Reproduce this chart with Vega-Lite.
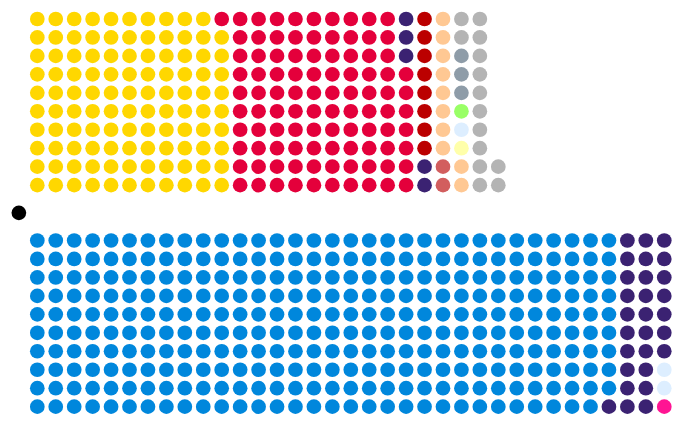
{
"$schema":"https://vega.github.io/schema/vega-lite/v6.json",
"width":683,"height":425,"padding":0,"autosize":"none",
"config":{"view":{"stroke":null}},
"data":{"values":[
{"x":-1,"y":10.5,"p":"K"},
{"x":0,"y":0,"p":"Y"},{"x":0,"y":1,"p":"Y"},{"x":0,"y":2,"p":"Y"},{"x":0,"y":3,"p":"Y"},{"x":0,"y":4,"p":"Y"},{"x":0,"y":5,"p":"Y"},{"x":0,"y":6,"p":"Y"},{"x":0,"y":7,"p":"Y"},{"x":0,"y":8,"p":"Y"},{"x":0,"y":9,"p":"Y"},
{"x":1,"y":0,"p":"Y"},{"x":1,"y":1,"p":"Y"},{"x":1,"y":2,"p":"Y"},{"x":1,"y":3,"p":"Y"},{"x":1,"y":4,"p":"Y"},{"x":1,"y":5,"p":"Y"},{"x":1,"y":6,"p":"Y"},{"x":1,"y":7,"p":"Y"},{"x":1,"y":8,"p":"Y"},{"x":1,"y":9,"p":"Y"},
{"x":2,"y":0,"p":"Y"},{"x":2,"y":1,"p":"Y"},{"x":2,"y":2,"p":"Y"},{"x":2,"y":3,"p":"Y"},{"x":2,"y":4,"p":"Y"},{"x":2,"y":5,"p":"Y"},{"x":2,"y":6,"p":"Y"},{"x":2,"y":7,"p":"Y"},{"x":2,"y":8,"p":"Y"},{"x":2,"y":9,"p":"Y"},
{"x":3,"y":0,"p":"Y"},{"x":3,"y":1,"p":"Y"},{"x":3,"y":2,"p":"Y"},{"x":3,"y":3,"p":"Y"},{"x":3,"y":4,"p":"Y"},{"x":3,"y":5,"p":"Y"},{"x":3,"y":6,"p":"Y"},{"x":3,"y":7,"p":"Y"},{"x":3,"y":8,"p":"Y"},{"x":3,"y":9,"p":"Y"},
{"x":4,"y":0,"p":"Y"},{"x":4,"y":1,"p":"Y"},{"x":4,"y":2,"p":"Y"},{"x":4,"y":3,"p":"Y"},{"x":4,"y":4,"p":"Y"},{"x":4,"y":5,"p":"Y"},{"x":4,"y":6,"p":"Y"},{"x":4,"y":7,"p":"Y"},{"x":4,"y":8,"p":"Y"},{"x":4,"y":9,"p":"Y"},
{"x":5,"y":0,"p":"Y"},{"x":5,"y":1,"p":"Y"},{"x":5,"y":2,"p":"Y"},{"x":5,"y":3,"p":"Y"},{"x":5,"y":4,"p":"Y"},{"x":5,"y":5,"p":"Y"},{"x":5,"y":6,"p":"Y"},{"x":5,"y":7,"p":"Y"},{"x":5,"y":8,"p":"Y"},{"x":5,"y":9,"p":"Y"},
{"x":6,"y":0,"p":"Y"},{"x":6,"y":1,"p":"Y"},{"x":6,"y":2,"p":"Y"},{"x":6,"y":3,"p":"Y"},{"x":6,"y":4,"p":"Y"},{"x":6,"y":5,"p":"Y"},{"x":6,"y":6,"p":"Y"},{"x":6,"y":7,"p":"Y"},{"x":6,"y":8,"p":"Y"},{"x":6,"y":9,"p":"Y"},
{"x":7,"y":0,"p":"Y"},{"x":7,"y":1,"p":"Y"},{"x":7,"y":2,"p":"Y"},{"x":7,"y":3,"p":"Y"},{"x":7,"y":4,"p":"Y"},{"x":7,"y":5,"p":"Y"},{"x":7,"y":6,"p":"Y"},{"x":7,"y":7,"p":"Y"},{"x":7,"y":8,"p":"Y"},{"x":7,"y":9,"p":"Y"},
{"x":8,"y":0,"p":"Y"},{"x":8,"y":1,"p":"Y"},{"x":8,"y":2,"p":"Y"},{"x":8,"y":3,"p":"Y"},{"x":8,"y":4,"p":"Y"},{"x":8,"y":5,"p":"Y"},{"x":8,"y":6,"p":"Y"},{"x":8,"y":7,"p":"Y"},{"x":8,"y":8,"p":"Y"},{"x":8,"y":9,"p":"Y"},
{"x":9,"y":0,"p":"Y"},{"x":9,"y":1,"p":"Y"},{"x":9,"y":2,"p":"Y"},{"x":9,"y":3,"p":"Y"},{"x":9,"y":4,"p":"Y"},{"x":9,"y":5,"p":"Y"},{"x":9,"y":6,"p":"Y"},{"x":9,"y":7,"p":"Y"},{"x":9,"y":8,"p":"Y"},{"x":9,"y":9,"p":"Y"},
{"x":10,"y":0,"p":"R"},{"x":10,"y":1,"p":"Y"},{"x":10,"y":2,"p":"Y"},{"x":10,"y":3,"p":"Y"},{"x":10,"y":4,"p":"Y"},{"x":10,"y":5,"p":"Y"},{"x":10,"y":6,"p":"Y"},{"x":10,"y":7,"p":"Y"},{"x":10,"y":8,"p":"Y"},{"x":10,"y":9,"p":"Y"},
{"x":11,"y":0,"p":"R"},{"x":11,"y":1,"p":"R"},{"x":11,"y":2,"p":"R"},{"x":11,"y":3,"p":"R"},{"x":11,"y":4,"p":"R"},{"x":11,"y":5,"p":"R"},{"x":11,"y":6,"p":"R"},{"x":11,"y":7,"p":"R"},{"x":11,"y":8,"p":"R"},{"x":11,"y":9,"p":"R"},
{"x":12,"y":0,"p":"R"},{"x":12,"y":1,"p":"R"},{"x":12,"y":2,"p":"R"},{"x":12,"y":3,"p":"R"},{"x":12,"y":4,"p":"R"},{"x":12,"y":5,"p":"R"},{"x":12,"y":6,"p":"R"},{"x":12,"y":7,"p":"R"},{"x":12,"y":8,"p":"R"},{"x":12,"y":9,"p":"R"},
{"x":13,"y":0,"p":"R"},{"x":13,"y":1,"p":"R"},{"x":13,"y":2,"p":"R"},{"x":13,"y":3,"p":"R"},{"x":13,"y":4,"p":"R"},{"x":13,"y":5,"p":"R"},{"x":13,"y":6,"p":"R"},{"x":13,"y":7,"p":"R"},{"x":13,"y":8,"p":"R"},{"x":13,"y":9,"p":"R"},
{"x":14,"y":0,"p":"R"},{"x":14,"y":1,"p":"R"},{"x":14,"y":2,"p":"R"},{"x":14,"y":3,"p":"R"},{"x":14,"y":4,"p":"R"},{"x":14,"y":5,"p":"R"},{"x":14,"y":6,"p":"R"},{"x":14,"y":7,"p":"R"},{"x":14,"y":8,"p":"R"},{"x":14,"y":9,"p":"R"},
{"x":15,"y":0,"p":"R"},{"x":15,"y":1,"p":"R"},{"x":15,"y":2,"p":"R"},{"x":15,"y":3,"p":"R"},{"x":15,"y":4,"p":"R"},{"x":15,"y":5,"p":"R"},{"x":15,"y":6,"p":"R"},{"x":15,"y":7,"p":"R"},{"x":15,"y":8,"p":"R"},{"x":15,"y":9,"p":"R"},
{"x":16,"y":0,"p":"R"},{"x":16,"y":1,"p":"R"},{"x":16,"y":2,"p":"R"},{"x":16,"y":3,"p":"R"},{"x":16,"y":4,"p":"R"},{"x":16,"y":5,"p":"R"},{"x":16,"y":6,"p":"R"},{"x":16,"y":7,"p":"R"},{"x":16,"y":8,"p":"R"},{"x":16,"y":9,"p":"R"},
{"x":17,"y":0,"p":"R"},{"x":17,"y":1,"p":"R"},{"x":17,"y":2,"p":"R"},{"x":17,"y":3,"p":"R"},{"x":17,"y":4,"p":"R"},{"x":17,"y":5,"p":"R"},{"x":17,"y":6,"p":"R"},{"x":17,"y":7,"p":"R"},{"x":17,"y":8,"p":"R"},{"x":17,"y":9,"p":"R"},
{"x":18,"y":0,"p":"R"},{"x":18,"y":1,"p":"R"},{"x":18,"y":2,"p":"R"},{"x":18,"y":3,"p":"R"},{"x":18,"y":4,"p":"R"},{"x":18,"y":5,"p":"R"},{"x":18,"y":6,"p":"R"},{"x":18,"y":7,"p":"R"},{"x":18,"y":8,"p":"R"},{"x":18,"y":9,"p":"R"},
{"x":19,"y":0,"p":"R"},{"x":19,"y":1,"p":"R"},{"x":19,"y":2,"p":"R"},{"x":19,"y":3,"p":"R"},{"x":19,"y":4,"p":"R"},{"x":19,"y":5,"p":"R"},{"x":19,"y":6,"p":"R"},{"x":19,"y":7,"p":"R"},{"x":19,"y":8,"p":"R"},{"x":19,"y":9,"p":"R"},
{"x":20,"y":0,"p":"P"},{"x":20,"y":1,"p":"P"},{"x":20,"y":2,"p":"P"},{"x":20,"y":3,"p":"R"},{"x":20,"y":4,"p":"R"},{"x":20,"y":5,"p":"R"},{"x":20,"y":6,"p":"R"},{"x":20,"y":7,"p":"R"},{"x":20,"y":8,"p":"R"},{"x":20,"y":9,"p":"R"},
{"x":21,"y":0,"p":"DR"},{"x":21,"y":1,"p":"DR"},{"x":21,"y":2,"p":"DR"},{"x":21,"y":3,"p":"DR"},{"x":21,"y":4,"p":"DR"},{"x":21,"y":5,"p":"DR"},{"x":21,"y":6,"p":"DR"},{"x":21,"y":7,"p":"DR"},{"x":21,"y":8,"p":"P"},{"x":21,"y":9,"p":"P"},
{"x":22,"y":0,"p":"PE"},{"x":22,"y":1,"p":"PE"},{"x":22,"y":2,"p":"PE"},{"x":22,"y":3,"p":"PE"},{"x":22,"y":4,"p":"PE"},{"x":22,"y":5,"p":"PE"},{"x":22,"y":6,"p":"PE"},{"x":22,"y":7,"p":"PE"},{"x":22,"y":8,"p":"IR"},{"x":22,"y":9,"p":"IR"},
{"x":23,"y":0,"p":"G"},{"x":23,"y":1,"p":"G"},{"x":23,"y":2,"p":"SL"},{"x":23,"y":3,"p":"SL"},{"x":23,"y":4,"p":"SL"},{"x":23,"y":5,"p":"GR"},{"x":23,"y":6,"p":"LB"},{"x":23,"y":7,"p":"LY"},{"x":23,"y":8,"p":"PE"},{"x":23,"y":9,"p":"PE"},
{"x":24,"y":0,"p":"G"},{"x":24,"y":1,"p":"G"},{"x":24,"y":2,"p":"G"},{"x":24,"y":3,"p":"G"},{"x":24,"y":4,"p":"G"},{"x":24,"y":5,"p":"G"},{"x":24,"y":6,"p":"G"},{"x":24,"y":7,"p":"G"},{"x":24,"y":8,"p":"G"},{"x":24,"y":9,"p":"G"},
{"x":25,"y":8,"p":"G"},{"x":25,"y":9,"p":"G"},
{"x":0,"y":12,"p":"B"},{"x":0,"y":13,"p":"B"},{"x":0,"y":14,"p":"B"},{"x":0,"y":15,"p":"B"},{"x":0,"y":16,"p":"B"},{"x":0,"y":17,"p":"B"},{"x":0,"y":18,"p":"B"},{"x":0,"y":19,"p":"B"},{"x":0,"y":20,"p":"B"},{"x":0,"y":21,"p":"B"},
{"x":1,"y":12,"p":"B"},{"x":1,"y":13,"p":"B"},{"x":1,"y":14,"p":"B"},{"x":1,"y":15,"p":"B"},{"x":1,"y":16,"p":"B"},{"x":1,"y":17,"p":"B"},{"x":1,"y":18,"p":"B"},{"x":1,"y":19,"p":"B"},{"x":1,"y":20,"p":"B"},{"x":1,"y":21,"p":"B"},
{"x":2,"y":12,"p":"B"},{"x":2,"y":13,"p":"B"},{"x":2,"y":14,"p":"B"},{"x":2,"y":15,"p":"B"},{"x":2,"y":16,"p":"B"},{"x":2,"y":17,"p":"B"},{"x":2,"y":18,"p":"B"},{"x":2,"y":19,"p":"B"},{"x":2,"y":20,"p":"B"},{"x":2,"y":21,"p":"B"},
{"x":3,"y":12,"p":"B"},{"x":3,"y":13,"p":"B"},{"x":3,"y":14,"p":"B"},{"x":3,"y":15,"p":"B"},{"x":3,"y":16,"p":"B"},{"x":3,"y":17,"p":"B"},{"x":3,"y":18,"p":"B"},{"x":3,"y":19,"p":"B"},{"x":3,"y":20,"p":"B"},{"x":3,"y":21,"p":"B"},
{"x":4,"y":12,"p":"B"},{"x":4,"y":13,"p":"B"},{"x":4,"y":14,"p":"B"},{"x":4,"y":15,"p":"B"},{"x":4,"y":16,"p":"B"},{"x":4,"y":17,"p":"B"},{"x":4,"y":18,"p":"B"},{"x":4,"y":19,"p":"B"},{"x":4,"y":20,"p":"B"},{"x":4,"y":21,"p":"B"},
{"x":5,"y":12,"p":"B"},{"x":5,"y":13,"p":"B"},{"x":5,"y":14,"p":"B"},{"x":5,"y":15,"p":"B"},{"x":5,"y":16,"p":"B"},{"x":5,"y":17,"p":"B"},{"x":5,"y":18,"p":"B"},{"x":5,"y":19,"p":"B"},{"x":5,"y":20,"p":"B"},{"x":5,"y":21,"p":"B"},
{"x":6,"y":12,"p":"B"},{"x":6,"y":13,"p":"B"},{"x":6,"y":14,"p":"B"},{"x":6,"y":15,"p":"B"},{"x":6,"y":16,"p":"B"},{"x":6,"y":17,"p":"B"},{"x":6,"y":18,"p":"B"},{"x":6,"y":19,"p":"B"},{"x":6,"y":20,"p":"B"},{"x":6,"y":21,"p":"B"},
{"x":7,"y":12,"p":"B"},{"x":7,"y":13,"p":"B"},{"x":7,"y":14,"p":"B"},{"x":7,"y":15,"p":"B"},{"x":7,"y":16,"p":"B"},{"x":7,"y":17,"p":"B"},{"x":7,"y":18,"p":"B"},{"x":7,"y":19,"p":"B"},{"x":7,"y":20,"p":"B"},{"x":7,"y":21,"p":"B"},
{"x":8,"y":12,"p":"B"},{"x":8,"y":13,"p":"B"},{"x":8,"y":14,"p":"B"},{"x":8,"y":15,"p":"B"},{"x":8,"y":16,"p":"B"},{"x":8,"y":17,"p":"B"},{"x":8,"y":18,"p":"B"},{"x":8,"y":19,"p":"B"},{"x":8,"y":20,"p":"B"},{"x":8,"y":21,"p":"B"},
{"x":9,"y":12,"p":"B"},{"x":9,"y":13,"p":"B"},{"x":9,"y":14,"p":"B"},{"x":9,"y":15,"p":"B"},{"x":9,"y":16,"p":"B"},{"x":9,"y":17,"p":"B"},{"x":9,"y":18,"p":"B"},{"x":9,"y":19,"p":"B"},{"x":9,"y":20,"p":"B"},{"x":9,"y":21,"p":"B"},
{"x":10,"y":12,"p":"B"},{"x":10,"y":13,"p":"B"},{"x":10,"y":14,"p":"B"},{"x":10,"y":15,"p":"B"},{"x":10,"y":16,"p":"B"},{"x":10,"y":17,"p":"B"},{"x":10,"y":18,"p":"B"},{"x":10,"y":19,"p":"B"},{"x":10,"y":20,"p":"B"},{"x":10,"y":21,"p":"B"},
{"x":11,"y":12,"p":"B"},{"x":11,"y":13,"p":"B"},{"x":11,"y":14,"p":"B"},{"x":11,"y":15,"p":"B"},{"x":11,"y":16,"p":"B"},{"x":11,"y":17,"p":"B"},{"x":11,"y":18,"p":"B"},{"x":11,"y":19,"p":"B"},{"x":11,"y":20,"p":"B"},{"x":11,"y":21,"p":"B"},
{"x":12,"y":12,"p":"B"},{"x":12,"y":13,"p":"B"},{"x":12,"y":14,"p":"B"},{"x":12,"y":15,"p":"B"},{"x":12,"y":16,"p":"B"},{"x":12,"y":17,"p":"B"},{"x":12,"y":18,"p":"B"},{"x":12,"y":19,"p":"B"},{"x":12,"y":20,"p":"B"},{"x":12,"y":21,"p":"B"},
{"x":13,"y":12,"p":"B"},{"x":13,"y":13,"p":"B"},{"x":13,"y":14,"p":"B"},{"x":13,"y":15,"p":"B"},{"x":13,"y":16,"p":"B"},{"x":13,"y":17,"p":"B"},{"x":13,"y":18,"p":"B"},{"x":13,"y":19,"p":"B"},{"x":13,"y":20,"p":"B"},{"x":13,"y":21,"p":"B"},
{"x":14,"y":12,"p":"B"},{"x":14,"y":13,"p":"B"},{"x":14,"y":14,"p":"B"},{"x":14,"y":15,"p":"B"},{"x":14,"y":16,"p":"B"},{"x":14,"y":17,"p":"B"},{"x":14,"y":18,"p":"B"},{"x":14,"y":19,"p":"B"},{"x":14,"y":20,"p":"B"},{"x":14,"y":21,"p":"B"},
{"x":15,"y":12,"p":"B"},{"x":15,"y":13,"p":"B"},{"x":15,"y":14,"p":"B"},{"x":15,"y":15,"p":"B"},{"x":15,"y":16,"p":"B"},{"x":15,"y":17,"p":"B"},{"x":15,"y":18,"p":"B"},{"x":15,"y":19,"p":"B"},{"x":15,"y":20,"p":"B"},{"x":15,"y":21,"p":"B"},
{"x":16,"y":12,"p":"B"},{"x":16,"y":13,"p":"B"},{"x":16,"y":14,"p":"B"},{"x":16,"y":15,"p":"B"},{"x":16,"y":16,"p":"B"},{"x":16,"y":17,"p":"B"},{"x":16,"y":18,"p":"B"},{"x":16,"y":19,"p":"B"},{"x":16,"y":20,"p":"B"},{"x":16,"y":21,"p":"B"},
{"x":17,"y":12,"p":"B"},{"x":17,"y":13,"p":"B"},{"x":17,"y":14,"p":"B"},{"x":17,"y":15,"p":"B"},{"x":17,"y":16,"p":"B"},{"x":17,"y":17,"p":"B"},{"x":17,"y":18,"p":"B"},{"x":17,"y":19,"p":"B"},{"x":17,"y":20,"p":"B"},{"x":17,"y":21,"p":"B"},
{"x":18,"y":12,"p":"B"},{"x":18,"y":13,"p":"B"},{"x":18,"y":14,"p":"B"},{"x":18,"y":15,"p":"B"},{"x":18,"y":16,"p":"B"},{"x":18,"y":17,"p":"B"},{"x":18,"y":18,"p":"B"},{"x":18,"y":19,"p":"B"},{"x":18,"y":20,"p":"B"},{"x":18,"y":21,"p":"B"},
{"x":19,"y":12,"p":"B"},{"x":19,"y":13,"p":"B"},{"x":19,"y":14,"p":"B"},{"x":19,"y":15,"p":"B"},{"x":19,"y":16,"p":"B"},{"x":19,"y":17,"p":"B"},{"x":19,"y":18,"p":"B"},{"x":19,"y":19,"p":"B"},{"x":19,"y":20,"p":"B"},{"x":19,"y":21,"p":"B"},
{"x":20,"y":12,"p":"B"},{"x":20,"y":13,"p":"B"},{"x":20,"y":14,"p":"B"},{"x":20,"y":15,"p":"B"},{"x":20,"y":16,"p":"B"},{"x":20,"y":17,"p":"B"},{"x":20,"y":18,"p":"B"},{"x":20,"y":19,"p":"B"},{"x":20,"y":20,"p":"B"},{"x":20,"y":21,"p":"B"},
{"x":21,"y":12,"p":"B"},{"x":21,"y":13,"p":"B"},{"x":21,"y":14,"p":"B"},{"x":21,"y":15,"p":"B"},{"x":21,"y":16,"p":"B"},{"x":21,"y":17,"p":"B"},{"x":21,"y":18,"p":"B"},{"x":21,"y":19,"p":"B"},{"x":21,"y":20,"p":"B"},{"x":21,"y":21,"p":"B"},
{"x":22,"y":12,"p":"B"},{"x":22,"y":13,"p":"B"},{"x":22,"y":14,"p":"B"},{"x":22,"y":15,"p":"B"},{"x":22,"y":16,"p":"B"},{"x":22,"y":17,"p":"B"},{"x":22,"y":18,"p":"B"},{"x":22,"y":19,"p":"B"},{"x":22,"y":20,"p":"B"},{"x":22,"y":21,"p":"B"},
{"x":23,"y":12,"p":"B"},{"x":23,"y":13,"p":"B"},{"x":23,"y":14,"p":"B"},{"x":23,"y":15,"p":"B"},{"x":23,"y":16,"p":"B"},{"x":23,"y":17,"p":"B"},{"x":23,"y":18,"p":"B"},{"x":23,"y":19,"p":"B"},{"x":23,"y":20,"p":"B"},{"x":23,"y":21,"p":"B"},
{"x":24,"y":12,"p":"B"},{"x":24,"y":13,"p":"B"},{"x":24,"y":14,"p":"B"},{"x":24,"y":15,"p":"B"},{"x":24,"y":16,"p":"B"},{"x":24,"y":17,"p":"B"},{"x":24,"y":18,"p":"B"},{"x":24,"y":19,"p":"B"},{"x":24,"y":20,"p":"B"},{"x":24,"y":21,"p":"B"},
{"x":25,"y":12,"p":"B"},{"x":25,"y":13,"p":"B"},{"x":25,"y":14,"p":"B"},{"x":25,"y":15,"p":"B"},{"x":25,"y":16,"p":"B"},{"x":25,"y":17,"p":"B"},{"x":25,"y":18,"p":"B"},{"x":25,"y":19,"p":"B"},{"x":25,"y":20,"p":"B"},{"x":25,"y":21,"p":"B"},
{"x":26,"y":12,"p":"B"},{"x":26,"y":13,"p":"B"},{"x":26,"y":14,"p":"B"},{"x":26,"y":15,"p":"B"},{"x":26,"y":16,"p":"B"},{"x":26,"y":17,"p":"B"},{"x":26,"y":18,"p":"B"},{"x":26,"y":19,"p":"B"},{"x":26,"y":20,"p":"B"},{"x":26,"y":21,"p":"B"},
{"x":27,"y":12,"p":"B"},{"x":27,"y":13,"p":"B"},{"x":27,"y":14,"p":"B"},{"x":27,"y":15,"p":"B"},{"x":27,"y":16,"p":"B"},{"x":27,"y":17,"p":"B"},{"x":27,"y":18,"p":"B"},{"x":27,"y":19,"p":"B"},{"x":27,"y":20,"p":"B"},{"x":27,"y":21,"p":"B"},
{"x":28,"y":12,"p":"B"},{"x":28,"y":13,"p":"B"},{"x":28,"y":14,"p":"B"},{"x":28,"y":15,"p":"B"},{"x":28,"y":16,"p":"B"},{"x":28,"y":17,"p":"B"},{"x":28,"y":18,"p":"B"},{"x":28,"y":19,"p":"B"},{"x":28,"y":20,"p":"B"},{"x":28,"y":21,"p":"B"},
{"x":29,"y":12,"p":"B"},{"x":29,"y":13,"p":"B"},{"x":29,"y":14,"p":"B"},{"x":29,"y":15,"p":"B"},{"x":29,"y":16,"p":"B"},{"x":29,"y":17,"p":"B"},{"x":29,"y":18,"p":"B"},{"x":29,"y":19,"p":"B"},{"x":29,"y":20,"p":"B"},{"x":29,"y":21,"p":"B"},
{"x":30,"y":12,"p":"B"},{"x":30,"y":13,"p":"B"},{"x":30,"y":14,"p":"B"},{"x":30,"y":15,"p":"B"},{"x":30,"y":16,"p":"B"},{"x":30,"y":17,"p":"B"},{"x":30,"y":18,"p":"B"},{"x":30,"y":19,"p":"B"},{"x":30,"y":20,"p":"B"},{"x":30,"y":21,"p":"B"},
{"x":31,"y":12,"p":"B"},{"x":31,"y":13,"p":"B"},{"x":31,"y":14,"p":"B"},{"x":31,"y":15,"p":"B"},{"x":31,"y":16,"p":"B"},{"x":31,"y":17,"p":"B"},{"x":31,"y":18,"p":"B"},{"x":31,"y":19,"p":"B"},{"x":31,"y":20,"p":"B"},{"x":31,"y":21,"p":"P"},
{"x":32,"y":12,"p":"P"},{"x":32,"y":13,"p":"P"},{"x":32,"y":14,"p":"P"},{"x":32,"y":15,"p":"P"},{"x":32,"y":16,"p":"P"},{"x":32,"y":17,"p":"P"},{"x":32,"y":18,"p":"P"},{"x":32,"y":19,"p":"P"},{"x":32,"y":20,"p":"P"},{"x":32,"y":21,"p":"P"},
{"x":33,"y":12,"p":"P"},{"x":33,"y":13,"p":"P"},{"x":33,"y":14,"p":"P"},{"x":33,"y":15,"p":"P"},{"x":33,"y":16,"p":"P"},{"x":33,"y":17,"p":"P"},{"x":33,"y":18,"p":"P"},{"x":33,"y":19,"p":"P"},{"x":33,"y":20,"p":"P"},{"x":33,"y":21,"p":"P"},
{"x":34,"y":12,"p":"P"},{"x":34,"y":13,"p":"P"},{"x":34,"y":14,"p":"P"},{"x":34,"y":15,"p":"P"},{"x":34,"y":16,"p":"P"},{"x":34,"y":17,"p":"P"},{"x":34,"y":18,"p":"P"},{"x":34,"y":19,"p":"LB"},{"x":34,"y":20,"p":"LB"},{"x":34,"y":21,"p":"PK"}
]},
"mark":{"type":"point","filled":true,"shape":"circle","size":216,"opacity":1,"strokeWidth":0},
"encoding":{
"x":{"field":"x","type":"quantitative","scale":{"domain":[-2.023,35.016],"nice":false,"zero":false},"axis":null},
"y":{"field":"y","type":"quantitative","scale":{"domain":[-1.029,21.994],"nice":false,"zero":false,"reverse":true},"axis":null},
"color":{"field":"p","type":"nominal","legend":null,"scale":{"domain":["Y","R","P","DR","IR","PE","LY","LB","GR","SL","G","B","PK","K"],"range":["#FFD700","#E4003B","#3B2272","#BB0000","#D25E5E","#FFC893","#FFFFAA","#DDEEFF","#99FF66","#8E9CA8","#B4B4B4","#0087DC","#FF1493","#000000"]}}
}
}
